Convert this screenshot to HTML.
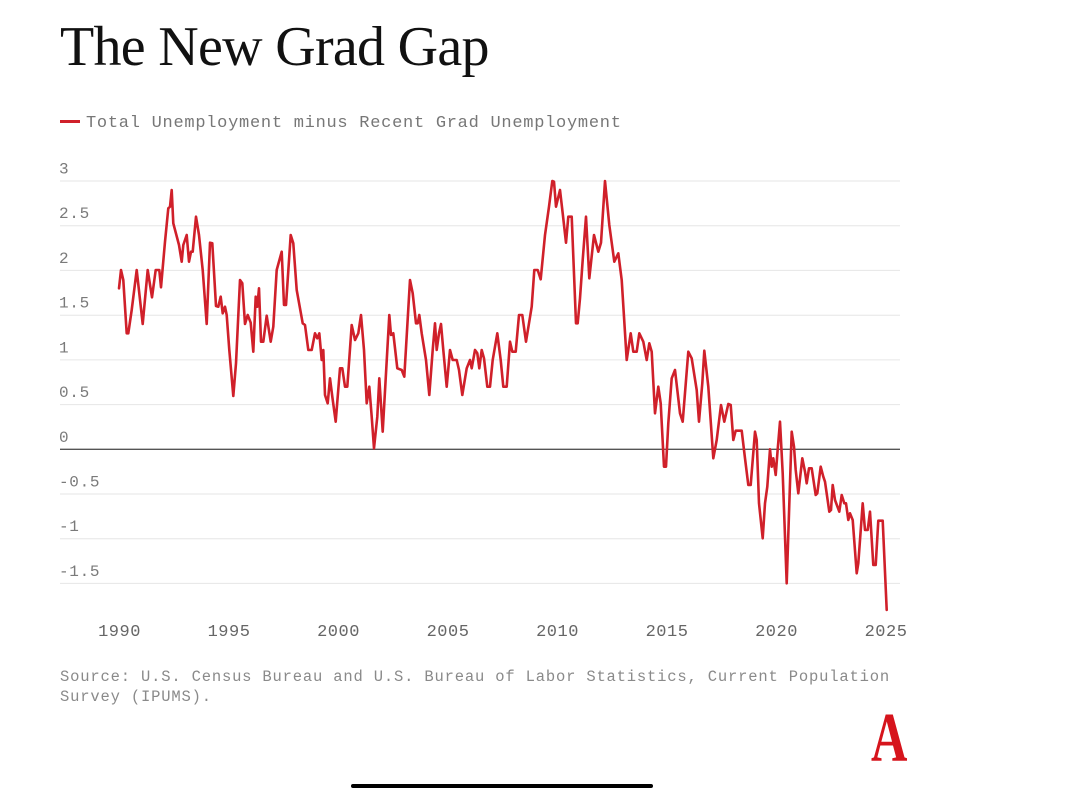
<!DOCTYPE html>
<html>
<head>
<meta charset="utf-8">
<style>
  html, body { margin: 0; padding: 0; background: #ffffff; }
  body { width: 1080px; height: 788px; overflow: hidden; position: relative; }
  svg { display: block; }
  .mono { font-family: "Liberation Mono", "DejaVu Sans Mono", monospace; }
</style>
</head>
<body>
<svg width="1080" height="788" viewBox="0 0 1080 788" xmlns="http://www.w3.org/2000/svg">
  <rect x="0" y="0" width="1080" height="788" fill="#ffffff"/>

  <!-- Title -->
  <text x="60" y="65" font-family="Liberation Serif, serif" font-size="56" letter-spacing="-0.7" fill="#111111">The New Grad Gap</text>

  <!-- Legend -->
  <line x1="60" y1="121.5" x2="80" y2="121.5" stroke="#d0202a" stroke-width="3"/>
  <text x="86" y="127" class="mono" font-size="17" letter-spacing="0.73" fill="#777777">Total Unemployment minus Recent Grad Unemployment</text>

  <!-- Gridlines -->
  <g stroke="#e6e6e6" stroke-width="1">
    <line x1="60" y1="181" x2="900" y2="181"/>
    <line x1="60" y1="225.7" x2="900" y2="225.7"/>
    <line x1="60" y1="270.4" x2="900" y2="270.4"/>
    <line x1="60" y1="315.2" x2="900" y2="315.2"/>
    <line x1="60" y1="359.9" x2="900" y2="359.9"/>
    <line x1="60" y1="404.6" x2="900" y2="404.6"/>
    <line x1="60" y1="494" x2="900" y2="494"/>
    <line x1="60" y1="538.7" x2="900" y2="538.7"/>
    <line x1="60" y1="583.4" x2="900" y2="583.4"/>
  </g>
  <line x1="60" y1="449.3" x2="900" y2="449.3" stroke="#555555" stroke-width="1.3"/>

  <!-- Y labels -->
  <g class="mono" font-size="16" letter-spacing="0.7" fill="#7a7a7a">
    <text x="59" y="173.5">3</text>
    <text x="59" y="218.2">2.5</text>
    <text x="59" y="262.9">2</text>
    <text x="59" y="307.7">1.5</text>
    <text x="59" y="352.4">1</text>
    <text x="59" y="397.1">0.5</text>
    <text x="59" y="441.8">0</text>
    <text x="59" y="486.5">-0.5</text>
    <text x="59" y="531.2">-1</text>
    <text x="59" y="575.9">-1.5</text>
  </g>

  <!-- X labels -->
  <g class="mono" font-size="17" letter-spacing="0.5" fill="#666666" text-anchor="middle">
    <text x="119.5" y="636">1990</text>
    <text x="229" y="636">1995</text>
    <text x="338.5" y="636">2000</text>
    <text x="448" y="636">2005</text>
    <text x="557.5" y="636">2010</text>
    <text x="667" y="636">2015</text>
    <text x="776.5" y="636">2020</text>
    <text x="886" y="636">2025</text>
  </g>

  <!-- Series -->
  <polyline fill="none" stroke="#d0202a" stroke-width="2.6" stroke-linejoin="round" stroke-linecap="round"
    points="119,288.3 121,270 123.3,280 126.7,333.3 128.3,333.3 131.7,310 136.7,270 142.7,324 147.7,270 152,297.3 155.7,270 159.3,270 161,287.3 165,241.7 168.3,208.3 170,206.7 171.7,190 173.3,223.3 179,245 181.7,261.7 183.3,245 186.7,235 189,261.7 191,251.7 192.7,251.7 196,216.7 199,235 202.7,270 206.7,324 210,242.7 212.3,243.3 216,306 218.3,306.7 220.7,296.7 222.7,313.3 225,306.7 226.7,315 229.3,350 233.3,396 236,363.3 240,280 242.3,283.3 245,324 247.7,315 250.7,322.7 253.3,351.7 255.7,296.7 257.3,306.7 259,288.3 261,341.7 263.3,341.7 266.7,315.7 270.7,341.7 273.3,326.7 276.7,270 281.7,251.7 284,305 286,305 290.7,235 293.3,243.3 296.7,290 302.7,323.3 305,325 308.3,350 311.7,350 315,333.3 317.3,338.3 319.3,333.3 321.7,360 323.3,350 325,395 327.7,403.3 330,378.3 332.3,396.7 335.7,421.7 340,368.3 342.3,368.3 345,386.7 347.3,386.7 351.7,325 355,340 358.3,333.3 361,315 364,350 366.7,403.3 369.3,386.7 371.7,416.7 374,448.3 377.3,416.7 379.3,378.3 382.7,431.7 389.3,315 391,335 393.3,333.3 397.3,368.3 401.7,370 404.3,376.7 410,280 412.7,293.3 416,323.3 417.7,323.3 419.3,315 421.7,333.3 426,360 429.3,395 432.7,350 435,323.3 436.7,350 439,333.3 441,324 443.3,350 446.7,386.7 450,350 452.7,360 456.7,360 459,370 462.3,395 466.7,368.3 470,360 471.7,368.3 475,350 477.3,353.3 479.3,368.3 481.7,350 484,358.3 487.3,386.7 490,386.7 492.7,360 495,346.7 497.3,333.3 500.7,360 503.3,386.7 506.7,386.7 510,341.7 512.3,351.7 515.7,351.7 519,315 522.3,315 526,341.7 531.7,306.7 534.3,270 537.7,270 540.7,279.3 545,235 549,206.7 552.3,181 554,181.7 556,206.7 560,190 562.7,213.3 566,242.7 568.3,216.7 571.7,216.7 576,323.3 577.7,323.3 580,298.3 582.7,260 586,216.7 589.3,278.3 594,235 598.3,251.7 601,242.7 605,181 609.3,225 614.3,261.7 618.3,253.3 621.7,280 626.7,360 630.7,333.3 633.3,351.7 636.7,351.7 639.3,333.3 643.3,341.7 646.7,360 649.3,343.3 651.7,351.7 655,413.3 658.3,386.7 660.7,403.3 664,466.7 666,466.7 668.3,423.3 671.7,378.3 675,370 680,413.3 682.7,421.7 688.3,351.7 691.7,358.3 696.7,390 699,421.7 702.3,383.3 704.3,350.7 708.3,386.7 713.3,458.3 716.7,440 721,405 724.3,421.7 728.3,404 730.7,405 733.3,440 735.7,430.7 741.7,430.7 745,458.3 748.3,485 750.7,485 755,431.7 756.7,440 759,503.3 762.7,538.3 765,503.3 767.3,486.7 770,449.3 771.7,466.7 773.3,458.3 775.7,475 777.7,449.3 780,421.7 782.7,473.3 786.7,583.3 789,513.3 791.7,431.7 794,446.7 795.7,470 798.3,493.3 802.3,458.3 805,471.7 806.7,483.3 809,468.3 811.7,468.3 815.7,495 817.3,493.3 820.7,466.7 823.3,476.7 825,481.7 829.3,511.7 831,510 832.7,485 835,500 839.3,511.7 841.7,495 844.3,503.3 846,503.3 848.3,520 850,513.3 852.7,520 856.7,573.3 858.3,563.3 862.7,503.3 865,530 867.7,530 870,511.7 873.3,565 875.7,565 878.3,520.7 882.7,520.7 886.7,610"/>

  <!-- Source -->
  <g class="mono" font-size="15.5" letter-spacing="0.82" fill="#8a8a8a">
    <text x="60" y="681">Source: U.S. Census Bureau and U.S. Bureau of Labor Statistics, Current Population</text>
    <text x="60" y="701">Survey (IPUMS).</text>
  </g>

  <!-- Logo -->
  <text x="0" y="0" font-family="Liberation Serif, serif" font-weight="bold" font-size="70" fill="#d6141c"
        transform="translate(871 761) scale(0.72 1)">A</text>

  <!-- Bottom bar -->
  <rect x="351" y="784" width="302" height="4" rx="2" fill="#000000"/>
</svg>
</body>
</html>
